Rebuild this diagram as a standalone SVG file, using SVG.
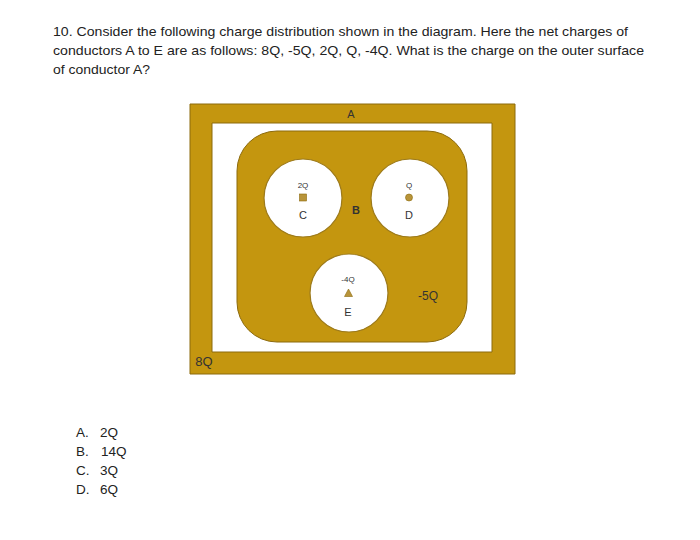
<svg xmlns="http://www.w3.org/2000/svg" width="700" height="540" viewBox="0 0 700 540">
<style>
.q{font-family:"Liberation Sans",Arial,sans-serif;font-size:13.5px;fill:#222}
.l{font-family:"Liberation Sans",Arial,sans-serif;fill:#333;text-anchor:middle}
.gold{fill:#C4960F;stroke:#8C6A0C;stroke-width:1}
.hole{fill:#fff;stroke:#9C7A1C;stroke-width:1.2}
.mk{fill:#B8943A;stroke:#8C6A0C;stroke-width:0.6}
</style>
<rect width="700" height="540" fill="#fff"/>
<text class="q" x="53" y="36" textLength="575" lengthAdjust="spacingAndGlyphs">10. Consider the following charge distribution shown in the diagram. Here the net charges of</text>
<text class="q" x="53" y="55" textLength="591" lengthAdjust="spacingAndGlyphs">conductors A to E are as follows: 8Q, -5Q, 2Q, Q, -4Q. What is the charge on the outer surface</text>
<text class="q" x="53" y="74" textLength="97" lengthAdjust="spacingAndGlyphs">of conductor A?</text>
<g id="A">
<path class="gold" fill-rule="evenodd" d="M190,104 H515 V374 H190 Z M212,123 V352 H492 V123 Z"/>
<text class="l" x="351" y="118" font-size="11">A</text>
<text class="l" x="204" y="366" font-size="13" fill="#333">8Q</text>
</g>
<g id="B">
<rect class="gold" x="237" y="131" width="230" height="211" rx="40" ry="40"/>
<text class="l" x="356" y="214" font-size="11" font-weight="bold" fill="#3a3020">B</text>
<text class="l" x="428" y="300" font-size="12">-5Q</text>
</g>
<g id="C">
<circle class="hole" cx="303" cy="198" r="39"/>
<text class="l" x="303" y="188" font-size="8">2Q</text>
<rect class="mk" x="299.5" y="194" width="7" height="7"/>
<text class="l" x="303" y="219" font-size="11">C</text>
</g>
<g id="D">
<circle class="hole" cx="410" cy="198" r="39"/>
<text class="l" x="409" y="188" font-size="8">Q</text>
<circle class="mk" cx="409" cy="197.5" r="3.5"/>
<text class="l" x="409" y="219" font-size="11">D</text>
</g>
<g id="E">
<circle class="hole" cx="349" cy="293" r="39"/>
<text class="l" x="348" y="282" font-size="8">-4Q</text>
<polygon class="mk" points="348.5,289 352.5,296.5 344.5,296.5"/>
<text class="l" x="348" y="316" font-size="11">E</text>
</g>
<g id="options" class="q" font-size="12">
<text x="76" y="437">A.</text><text x="100" y="437">2Q</text>
<text x="76" y="456">B.</text><text x="101" y="456">14Q</text>
<text x="76" y="475">C.</text><text x="100" y="475">3Q</text>
<text x="76" y="494">D.</text><text x="100" y="494">6Q</text>
</g>
<g id="connectors"/>
</svg>
